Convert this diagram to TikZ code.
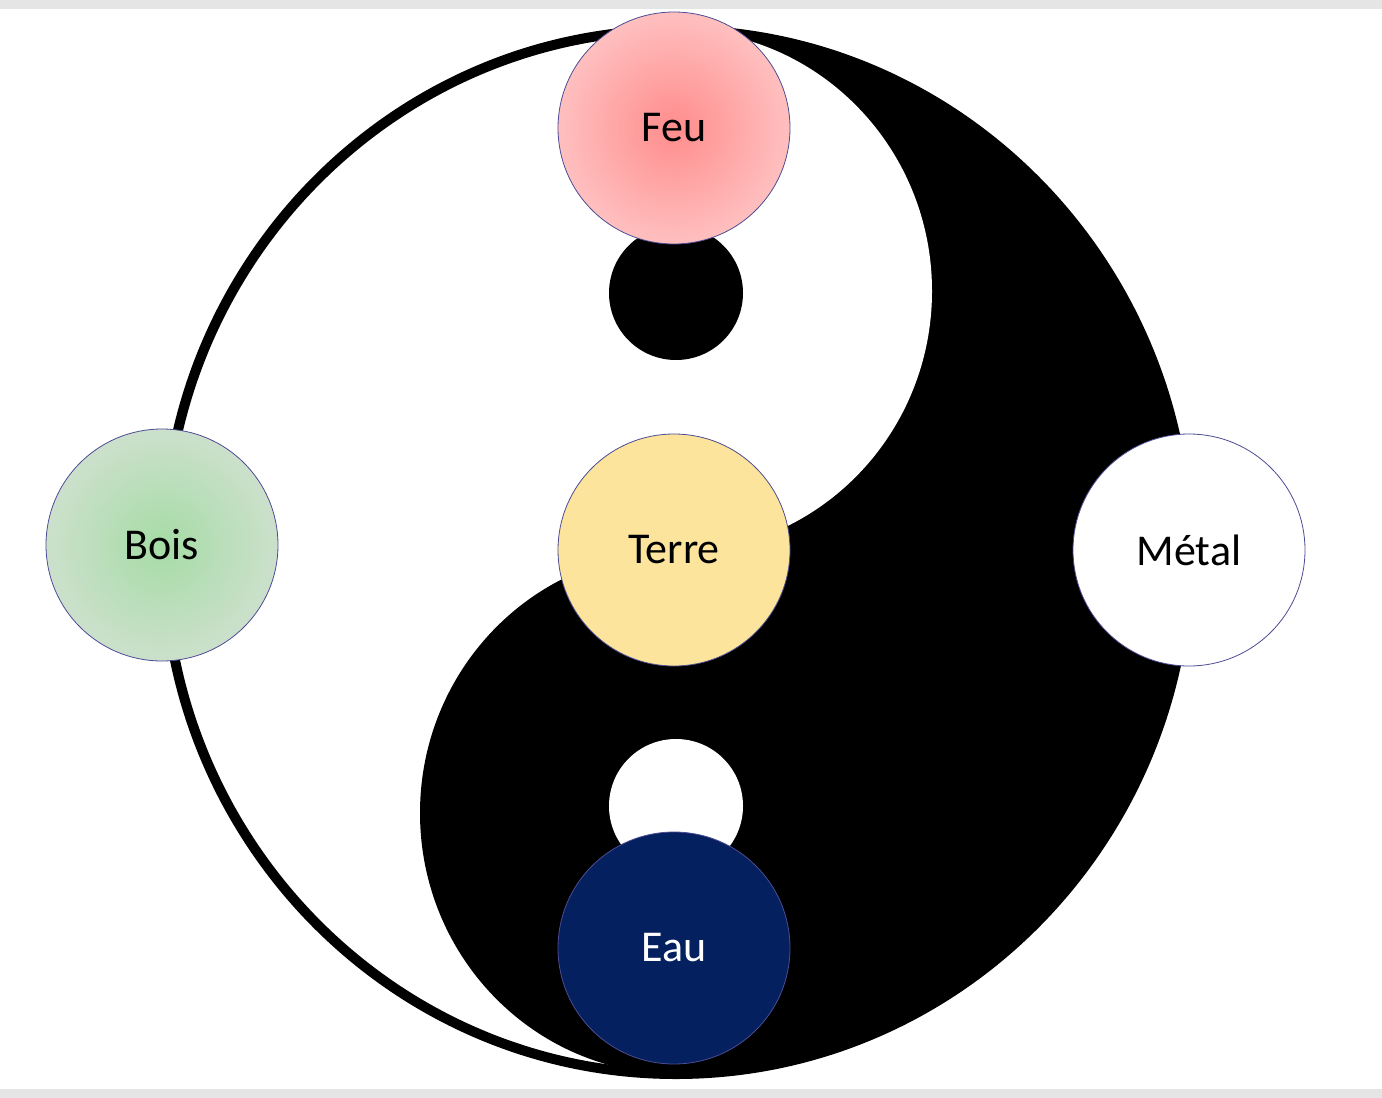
\documentclass[tikz,border=0pt]{standalone}
\usepackage{fontspec}
\setmainfont{Carlito}
\begin{document}
\begin{tikzpicture}[x=1pt,y=-1pt,
  elem/.style={circle,minimum size=232pt,inner sep=0pt,draw=blue!40!black!70,line width=0.8pt,font=\fontsize{44}{50}\selectfont}]
\useasboundingbox (0,0) rectangle (1382,1098);
\fill[white] (0,0) rectangle (1382,1098);
\fill[gray!20] (0,0) rectangle (1382,9);
\fill[gray!20] (0,1089) rectangle (1382,1098);
\begin{scope}
\clip (676,552) ellipse [x radius=512, y radius=522];
\fill[black] (676,0) rectangle (1300,1100);
\end{scope}
\fill[white] (676,291) ellipse [x radius=256, y radius=261];
\fill[black] (676,813) ellipse [x radius=256, y radius=261];
\fill[black] (676,293) circle (67);
\fill[white] (676,806) circle (67);
\draw[line width=10pt] (676,552) ellipse [x radius=512, y radius=522];
\node[elem,inner color=red!45,outer color=red!25] (feu) at (674,128) {Feu};
\node[elem,inner color=green!60!black!35,outer color=green!40!black!20] (bois) at (162,545) {Bois};
\node[elem,fill={rgb,255:red,252;green,228;blue,156}] (terre) at (674,550) {Terre};
\node[elem,fill=white] (metal) at (1189,550) {Métal};
\node[elem,fill={rgb,255:red,4;green,32;blue,94},text=white] (eau) at (674,948) {Eau};
\end{tikzpicture}
\end{document}
